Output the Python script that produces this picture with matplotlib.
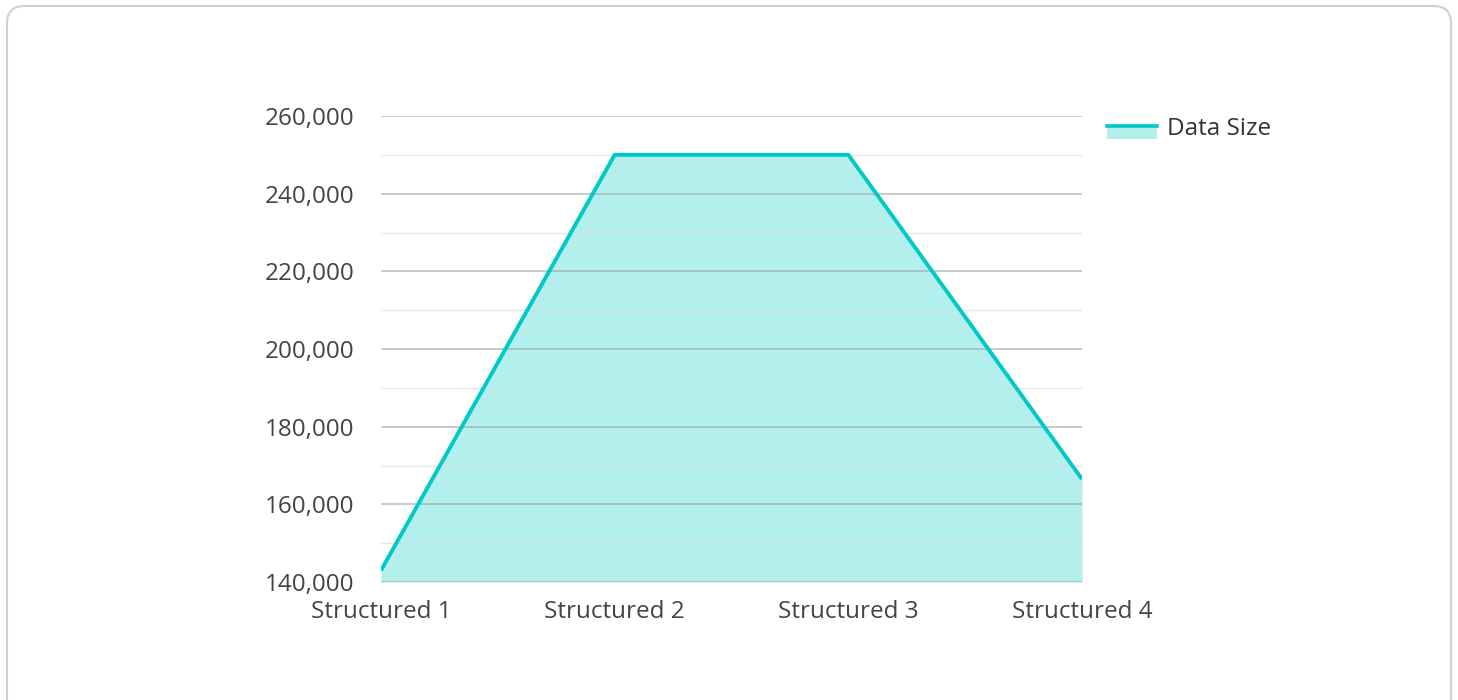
import matplotlib
matplotlib.use("Agg")
import matplotlib.pyplot as plt
from matplotlib.patches import FancyBboxPatch, Rectangle
from matplotlib.lines import Line2D
from matplotlib.legend_handler import HandlerBase
from matplotlib.ticker import FuncFormatter, MultipleLocator

categories = ["Structured 1", "Structured 2", "Structured 3", "Structured 4"]
data_size = [143000, 250000, 250000, 166500]
series_name = "Data Size"

LINE_C = "#00c9c8"
FILL_C = "#b2efed"
TEXT_C = "#444444"
FS = 17.5

plt.rcParams['font.family'] = ['Open Sans', 'DejaVu Sans']

fig = plt.figure(figsize=(14.58, 7.0), dpi=100)
fig.patch.set_facecolor("white")

# outer rounded border
border = FancyBboxPatch((7 / 1458, -20 / 700), 1444 / 1458, 714 / 700,
                        boxstyle="round,pad=0,rounding_size=0.012",
                        transform=fig.transFigure, facecolor="none",
                        edgecolor="#d0d0d0", linewidth=1.5, mutation_aspect=1458 / 700,
                        zorder=-5)
fig.add_artist(border)

ax = fig.add_axes([381 / 1458, 1 - 582 / 700, (1082 - 381) / 1458, (582 - 116) / 700])
ax.set_facecolor("none")
x = list(range(len(categories)))
ax.fill_between(x, data_size, 140000, color=FILL_C, alpha=1.0, zorder=1, linewidth=0)
ax.plot(x, data_size, color=LINE_C, linewidth=2.8, zorder=3, solid_capstyle="butt")

ax.set_xlim(0, 3)
ax.set_ylim(140000, 260000)
ax.yaxis.set_major_locator(MultipleLocator(20000))
ax.yaxis.set_minor_locator(MultipleLocator(10000))
ax.yaxis.set_major_formatter(FuncFormatter(lambda v, p: f"{int(v):,}"))
ax.set_xticks(x)
ax.set_xticklabels(categories)

ax.grid(which="major", axis="y", color="#9a9a9a", alpha=0.6, linewidth=1.2, zorder=2)
ax.grid(which="minor", axis="y", color="#d8d8d8", alpha=0.6, linewidth=1.0, zorder=2)
ax.set_axisbelow(False)
for s in ax.spines.values():
    s.set_visible(False)
ax.tick_params(axis="both", which="both", length=0, labelsize=FS, labelcolor=TEXT_C)
ax.tick_params(axis="y", pad=19)
ax.tick_params(axis="x", pad=13)


class AreaHandler(HandlerBase):
    def create_artists(self, legend, orig_handle, xdescent, ydescent, width, height, fontsize, trans):
        off = -4.0
        r = Rectangle((-xdescent, -ydescent + off), width, height, facecolor=FILL_C,
                      edgecolor="none", transform=trans)
        ln = Line2D([-xdescent, -xdescent + width], [height - ydescent - 1.0 + off] * 2,
                    color=LINE_C, linewidth=2.6, transform=trans)
        return [r, ln]


proxy = Rectangle((0, 0), 1, 1)
leg = fig.legend([proxy], [series_name], handler_map={Rectangle: AreaHandler()},
                 loc="upper left", bbox_to_anchor=(1107 / 1458, 1 - 117 / 700),
                 frameon=False, fontsize=FS, handlelength=2.06, handleheight=0.53,
                 handletextpad=0.42, borderpad=0, borderaxespad=0, labelcolor="#333333")

fig.savefig("out.png", dpi=100, facecolor="white")
